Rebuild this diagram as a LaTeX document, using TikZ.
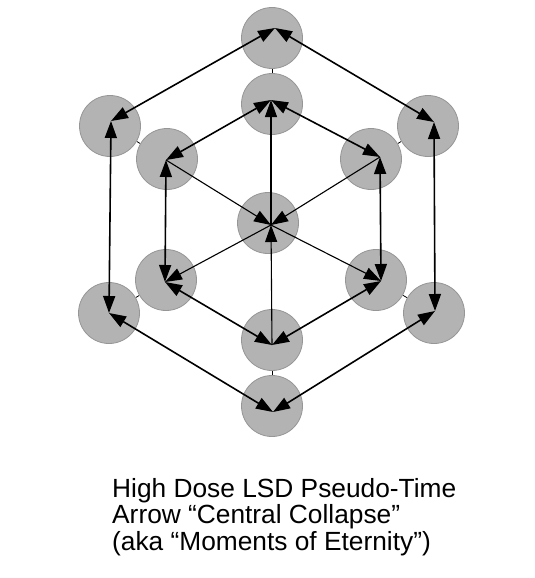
\documentclass[tikz,border=0pt]{standalone}
\usepackage{fontspec}
\setmainfont{Liberation Sans}
\usetikzlibrary{arrows.meta}
\usetikzlibrary{backgrounds}
\definecolor{discgray}{RGB}{179,179,179}
\definecolor{rimgray}{RGB}{150,150,150}
\tikzset{
  disc/.style={circle,fill=discgray,draw=rimgray,line width=0.8pt,minimum size=61pt,inner sep=0pt},
  edge/.style={line width=1.6pt,{Triangle[length=17pt,width=12pt]}-{Triangle[length=17pt,width=12pt]}},
  spoke/.style={line width=1.1pt,-{Triangle[length=17pt,width=12pt]}},
  link/.style={line width=0.8pt}
}
\begin{document}
\begin{tikzpicture}[x=1pt,y=-1pt]
\useasboundingbox (0,0) rectangle (535,578);
% outer ring
\node[disc] (oT) at (272,38) {};
\node[disc] (oUL) at (110,126) {};
\node[disc] (oUR) at (428,126) {};
\node[disc] (oLL) at (109,313) {};
\node[disc] (oLR) at (434,313) {};
\node[disc] (oB) at (272,406) {};
% inner ring
\node[disc] (iT) at (272,104) {};
\node[disc] (iUL) at (167,159) {};
\node[disc] (iUR) at (371,159) {};
\node[disc] (iLL) at (166,280) {};
\node[disc] (iLR) at (376,280) {};
\node[disc] (iB) at (272,340) {};
\node[disc] (C) at (268,223) {};
\begin{pgfonlayer}{background}
\draw[link] (oT) -- (iT);
\draw[link] (oUL) -- (iUL);
\draw[link] (oUR) -- (iUR);
\draw[link] (oLL) -- (iLL);
\draw[link] (oLR) -- (iLR);
\draw[link] (oB) -- (iB);
\end{pgfonlayer}
% meeting points of the arrows
\coordinate (hoT) at (275,28);
\coordinate (hoUL) at (111,121);
\coordinate (hoUR) at (434,122);
\coordinate (hoLL) at (109,313);
\coordinate (hoLR) at (435,311);
\coordinate (hoB) at (273,412);
\coordinate (hiT) at (271,100);
\coordinate (hiUL) at (166,160);
\coordinate (hiUR) at (380,157);
\coordinate (hiLL) at (165,282);
\coordinate (hiLR) at (381,281);
\coordinate (hiB) at (272,345);
\coordinate (hC) at (271,225);

\draw[edge] (hoUL) -- (hoT);
\draw[edge] (hoT) -- (hoUR);
\draw[edge] (hoUL) -- (hoLL);
\draw[edge] (hoUR) -- (hoLR);
\draw[edge] (hoLL) -- (hoB);
\draw[edge] (hoLR) -- (hoB);

\draw[edge] (hiUL) -- (hiT);
\draw[edge] (hiT) -- (hiUR);
\draw[edge] (hiUL) -- (hiLL);
\draw[edge] (hiUR) -- (hiLR);
\draw[edge] (hiLL) -- (hiB);
\draw[edge] (hiLR) -- (hiB);

\draw[spoke] (hiUL) -- (hC);
\draw[spoke] (hiUR) -- (hC);
\draw[spoke] (hiB) -- (hC);
\draw[spoke] (hC) -- (hiT);
\draw[spoke] (hC) -- (hiLL);
\draw[spoke] (hC) -- (hiLR);

\node[font=\fontsize{26.3}{26.5}\selectfont,align=left,anchor=base west,inner sep=0pt] (caption) at (112,550) {High Dose LSD Pseudo-Time\\Arrow “Central Collapse”\\(aka “Moments of Eternity”)};
\end{tikzpicture}
\end{document}
